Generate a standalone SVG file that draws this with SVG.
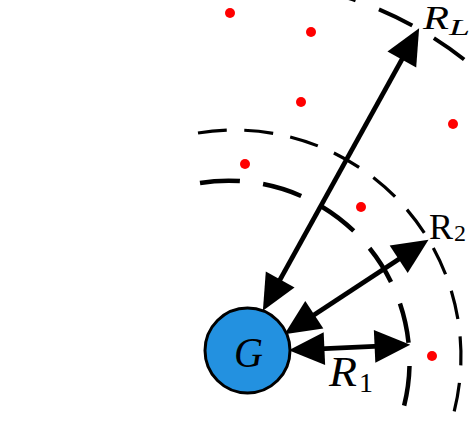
<svg xmlns="http://www.w3.org/2000/svg" width="473" height="444" viewBox="0 0 473 444">
<style>
.arc{fill:none;stroke:#000;stroke-linecap:butt}
.dot{fill:#f00}
.conn{stroke:#000;stroke-width:4.8;fill:none;marker-start:url(#ah);marker-end:url(#ah)}
.lbl{font-family:"Liberation Serif","Times New Roman",serif;font-style:italic;fill:#000}
.up{font-family:"Liberation Serif","Times New Roman",serif;fill:#000}
</style>
<defs>
<marker id="ah" markerUnits="userSpaceOnUse" markerWidth="40" markerHeight="40" viewBox="-16 -13 28 26" refX="0" refY="0" orient="auto-start-reverse">
<path d="M10,0 L-15,-11.5 L-15,11.5 Z" fill="#000"/>
</marker>
</defs>
<rect width="473" height="444" fill="#fff"/>
<g id="rings">
<path class="arc" d="M200,183 A181,181 0 0,1 403,410" stroke-width="4.5" stroke-dasharray="40 23.4"/>
<path class="arc" d="M198,133 A226.4,226.4 0 0,1 453,416" stroke-width="3.2" stroke-dasharray="29 17.5"/>
<path class="arc" d="M320.2,-10.1 A381,381 0 0,1 560,169.5" stroke-width="4" stroke-dasharray="37 25"/>
</g>
<g id="points">
<circle class="dot" cx="230" cy="13" r="5"/>
<circle class="dot" cx="311" cy="32" r="5"/>
<circle class="dot" cx="301" cy="102" r="5"/>
<circle class="dot" cx="453" cy="124" r="5"/>
<circle class="dot" cx="245" cy="164" r="5"/>
<circle class="dot" cx="361" cy="207" r="5"/>
<circle class="dot" cx="432" cy="356" r="5"/>
</g>
<g id="connectors">
<line class="conn" x1="269.8" y1="298.2" x2="412.2" y2="40.8"/>
<line class="conn" x1="296.4" y1="326.5" x2="416.6" y2="247.5"/>
<line class="conn" x1="303" y1="349.6" x2="396" y2="345.4"/>
</g>
<g id="node-G">
<circle cx="247.5" cy="350.5" r="42.5" fill="#2391e0" stroke="#000" stroke-width="3"/>
<text class="lbl" x="234" y="367" font-size="42" textLength="29" lengthAdjust="spacingAndGlyphs">G</text>
</g>
<g id="label-RL">
<text class="lbl" x="423" y="29" font-size="33" textLength="26" lengthAdjust="spacingAndGlyphs">R</text>
<text class="lbl" x="449" y="35" font-size="23" textLength="21" lengthAdjust="spacingAndGlyphs">L</text>
</g>
<g id="label-R2">
<text class="up" x="429" y="239" font-size="36">R</text>
<text class="up" x="454" y="241" font-size="24">2</text>
</g>
<g id="label-R1">
<text class="lbl" x="329" y="386" font-size="42" textLength="28" lengthAdjust="spacingAndGlyphs">R</text>
<text class="up" x="359" y="392" font-size="28">1</text>
</g>
</svg>
